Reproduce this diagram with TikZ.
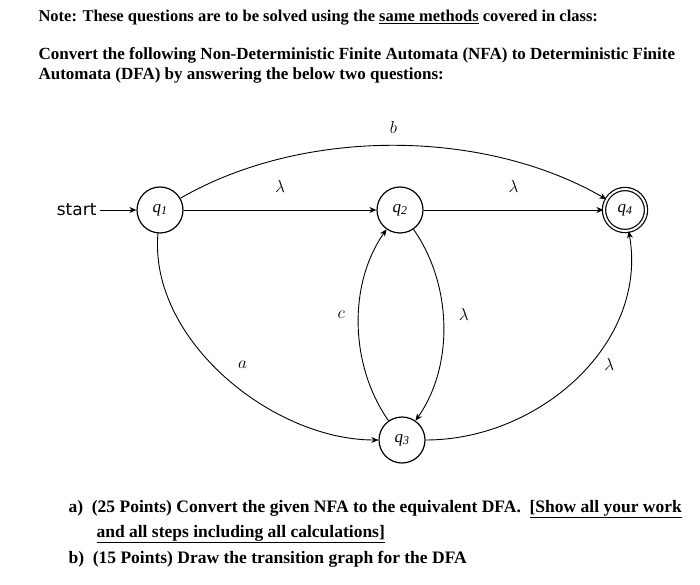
\documentclass[tikz,border=0pt]{standalone}
\usepackage{fontspec}
\setmainfont{Liberation Serif}
\setsansfont{DejaVu Sans}
\usetikzlibrary{arrows.meta}
\begin{document}
\begin{tikzpicture}[x=1pt,y=-1pt,
  st/.style={circle,draw,line width=1.2pt,minimum size=46pt,inner sep=0pt,font=\fontsize{17}{17}\selectfont\itshape},
  ed/.style={-{Stealth[length=7pt,width=6pt]},line width=0.9pt},
  lab/.style={font=\fontsize{17}{17}\selectfont\itshape},
  hd/.style={anchor=base west,font=\fontsize{16.5}{18}\selectfont\bfseries}]
\fill[white] (0,0) rectangle (700,585);
\useasboundingbox (0,0) rectangle (700,585);
\node[hd] (t1) at (35,22) {Note: These questions are to be solved using the \underline{same methods} covered in class:};
\node[hd,font=\fontsize{17}{18}\selectfont\bfseries] (t2) at (35,60) {Convert the following Non-Deterministic Finite Automata (NFA) to Deterministic Finite};
\node[hd,font=\fontsize{17}{18}\selectfont\bfseries] (t3) at (35,80) {Automata (DFA) by answering the below two questions:};
\node[st] (q1) at (160,210) {q\textsubscript{1}};
\node[st] (q2) at (400,210) {q\textsubscript{2}};
\node[st,double,double distance=2pt,minimum size=42pt] (q4) at (625,210) {q\textsubscript{4}};
\node[st] (q3) at (402,440) {q\textsubscript{3}};
\node[font=\fontsize{17}{17}\sffamily,anchor=east] (s) at (100,210) {start};
\draw[ed] (s) -- (q1);
\draw[ed] (q1) -- node[lab,above=14pt]{$\lambda$} (q2);
\draw[ed] (q2) -- node[lab,above=14pt]{$\lambda$} (q4);
\draw[ed] (q1) to[out=30,in=150,looseness=0.85] node[lab,above=8pt]{$b$} (q4);
\draw[ed] (q1) to[out=-95,in=180,looseness=0.9] node[lab,pos=0.45,right=22pt]{$a$} (q3);
\draw[ed] (q3) to[out=125,in=-125,looseness=0.9] node[lab,left=10pt,pos=0.55]{$c$} (q2);
\draw[ed] (q2) to[out=-55,in=55,looseness=0.9] node[lab,right=12pt,pos=0.45]{$\lambda$} (q3);
\draw[ed] (q3) to[out=0,in=-80] node[lab,below right=2pt,pos=0.6]{$\lambda$} (q4);
\node[hd,font=\fontsize{17.5}{18}\selectfont\bfseries] (b1) at (65,512) {a)\ \ (25 Points) Convert the given NFA to the equivalent DFA. \ \underline{[Show all your work}};
\node[hd,font=\fontsize{17.5}{18}\selectfont\bfseries] (b2) at (93,537) {\underline{and all steps including all calculations]}};
\node[hd,font=\fontsize{17.5}{18}\selectfont\bfseries] (b3) at (65,563) {b)\ \ (15 Points) Draw the transition graph for the DFA};
\end{tikzpicture}
\end{document}
